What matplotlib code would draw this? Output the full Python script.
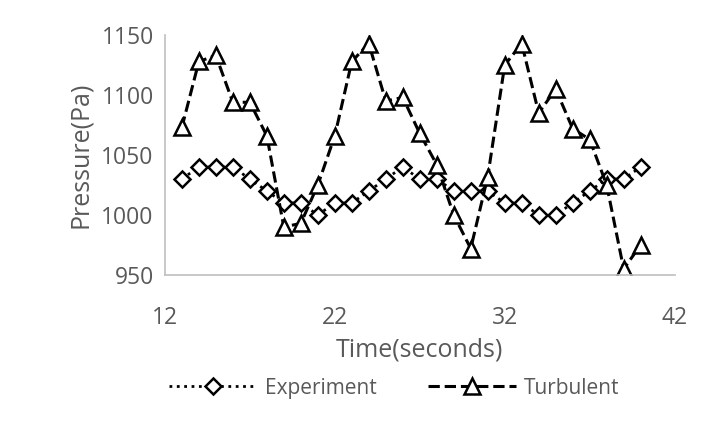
import matplotlib
matplotlib.use("Agg")
import matplotlib.pyplot as plt
plt.rcParams['font.family'] = ['Open Sans', 'DejaVu Sans']

time = list(range(13, 41))
experiment = [1030,1040,1040,1040,1030,1020,1010,1010,1000,1010,1010,1020,1030,1040,
              1030,1030,1020,1020,1020,1010,1010,1000,1000,1010,1020,1030,1030,1040]
turbulent = [1073,1128,1133,1094,1094,1066,990,993,1025,1066,1128,1143,1095,1098,
             1068,1042,1000,972,1032,1125,1143,1085,1105,1072,1063,1025,955,975]

fig = plt.figure(figsize=(7.2, 4.23), dpi=100)
ax = fig.add_axes([0.229, 0.35, 0.708, 0.567])
ax.plot(time, experiment, linestyle=':', color='black', lw=2, marker='D', ms=8,
        mfc='white', mec='black', mew=1.8, label='Experiment')
ax.plot(time, turbulent, linestyle='--', color='black', lw=2.2, marker='^', ms=11,
        mfc='white', mec='black', mew=1.8, label='Turbulent')
ax.set_xlim(12, 42)
ax.set_ylim(950, 1150)
ax.set_xticks([12, 22, 32, 42])
ax.set_yticks([950, 1000, 1050, 1100, 1150])
for s in ['top', 'right']:
    ax.spines[s].set_visible(False)
for s in ['left', 'bottom']:
    ax.spines[s].set_color('#bfbfbf')
    ax.spines[s].set_linewidth(1.2)
ax.tick_params(length=0, labelsize=16.5, colors='#595959', pad=8)
ax.tick_params(axis='x', pad=22)
ax.set_xlabel('Time(seconds)', fontsize=18, color='#595959', labelpad=6)
ax.set_ylabel('Pressure(Pa)', fontsize=18, color='#595959', labelpad=6)
leg = ax.legend(loc='upper center', bbox_to_anchor=(0.45, -0.35), ncol=2, frameon=False,
                fontsize=15, handlelength=4.2, handletextpad=0.4, columnspacing=2.5)
for t in leg.get_texts():
    t.set_color('#595959')
fig.savefig('out.png')
